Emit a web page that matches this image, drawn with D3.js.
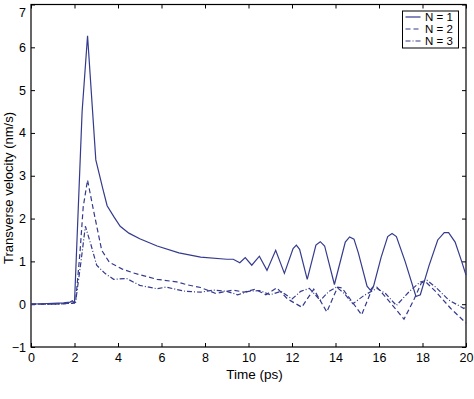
<!DOCTYPE html>
<html>
<head>
<meta charset="utf-8">
<script src="https://cdn.jsdelivr.net/npm/d3@7"></script>
<style>
  body { margin: 0; background: #fff; }
  svg { display: block; font-family: "Liberation Sans", Arial, sans-serif; }
</style>
</head>
<body>
<script>
// data
var xTicks = [0, 2, 4, 6, 8, 10, 12, 14, 16, 18, 20];
var yTicks = [-1, 0, 1, 2, 3, 4, 5, 6, 7];
var seriesNames = ["N = 1", "N = 2", "N = 3"];

var t1 = [0, 0.5, 1.0, 1.5, 1.8, 1.9, 2.0, 2.35, 2.6, 2.98, 3.3, 3.5, 3.8, 4.1, 4.5, 5.0, 5.8, 6.8, 7.8, 9.0, 9.3, 9.6, 9.85, 10.15, 10.5, 10.85, 11.25, 11.65, 12.05, 12.2, 12.35, 12.7, 13.1, 13.3, 13.5, 13.95, 14.45, 14.65, 14.85, 15.05, 15.45, 15.6, 15.75, 16.1, 16.4, 16.6, 16.8, 17.2, 17.7, 17.9, 18.3, 18.7, 19.0, 19.2, 19.5, 19.8, 20];
var v1 = [0, 0.01, 0.02, 0.03, 0.05, 0.08, 0.03, 4.5, 6.27, 3.37, 2.7, 2.3, 2.05, 1.82, 1.66, 1.53, 1.36, 1.2, 1.1, 1.05, 1.05, 0.97, 1.09, 0.91, 1.12, 0.79, 1.26, 0.72, 1.3, 1.38, 1.28, 0.58, 1.38, 1.46, 1.36, 0.46, 1.45, 1.57, 1.52, 1.2, 0.42, 0.33, 0.42, 1.1, 1.58, 1.65, 1.58, 1.0, 0.18, 0.22, 0.9, 1.5, 1.67, 1.67, 1.45, 1.0, 0.68];

var t2 = [0, 1.0, 1.9, 2.05, 2.25, 2.4, 2.6, 2.87, 3.25, 3.6, 4.2, 4.7, 5.8, 6.7, 7.2, 7.8, 8.5, 9.3, 9.8, 10.3, 10.8, 11.3, 11.8, 12.45, 13.0, 13.6, 14.1, 14.3, 15.2, 15.7, 15.9, 16.5, 17.15, 17.6, 17.95, 18.15, 18.6, 19.3, 20];
var v2 = [0, 0, 0.02, 0.05, 1.19, 2.27, 2.9, 2.2, 1.26, 0.98, 0.82, 0.73, 0.58, 0.52, 0.45, 0.39, 0.25, 0.33, 0.28, 0.35, 0.22, 0.38, 0.12, -0.07, 0.35, -0.18, 0.4, 0.38, -0.25, 0.38, 0.4, 0.05, -0.35, 0.1, 0.5, 0.52, 0.3, -0.1, -0.44];

var t3 = [0, 1.0, 1.9, 2.05, 2.3, 2.5, 2.75, 3.02, 3.4, 3.8, 4.4, 5.0, 5.8, 6.2, 7.1, 7.8, 8.4, 9.0, 9.5, 10.0, 10.5, 11.0, 11.5, 12.0, 12.4, 12.8, 13.3, 13.7, 14.05, 14.4, 14.8, 15.3, 15.9, 16.3, 16.8, 17.4, 17.9, 18.2, 18.6, 19.2, 19.9, 20];
var v3 = [0, 0, 0.02, 0.05, 1.0, 1.82, 1.4, 0.91, 0.72, 0.58, 0.6, 0.44, 0.36, 0.4, 0.3, 0.28, 0.33, 0.3, 0.22, 0.3, 0.32, 0.22, 0.3, 0.12, 0.3, 0.37, 0.09, 0.3, 0.4, 0.25, 0.01, 0.2, 0.37, 0.25, -0.03, 0.3, 0.52, 0.56, 0.4, 0.1, -0.1, -0.05];

var svgWidth = 474, svgHeight = 399;
var margin = { top: 4.5, right: 8, bottom: 52, left: 31 };
var width = svgWidth - margin.left - margin.right;
var height = svgHeight - margin.top - margin.bottom;
var lineColor = "#343a8c";

var svg = d3.select("body").append("svg")
  .attr("width", svgWidth)
  .attr("height", svgHeight);

var chartGroup = svg.append("g")
  .attr("transform", `translate(${margin.left}, ${margin.top})`);

var x = d3.scaleLinear().domain([0, 20]).range([0, width]);
var y = d3.scaleLinear().domain([-1, 7]).range([height, 0]);

// box + inward ticks, matlab style
function styleAxis(g) {
  g.select(".domain").remove();
  g.selectAll("line").attr("stroke", "#000").attr("stroke-width", 1);
  g.selectAll("text").attr("fill", "#000").style("font-size", "12.5px");
}

chartGroup.append("g")
  .attr("transform", `translate(0, ${height})`)
  .call(d3.axisBottom(x).tickValues(xTicks).tickSizeInner(-4).tickSizeOuter(0).tickPadding(6.5))
  .call(styleAxis);
chartGroup.append("g")
  .call(d3.axisTop(x).tickValues(xTicks).tickSizeInner(-4).tickSizeOuter(0).tickFormat(""))
  .call(styleAxis);
chartGroup.append("g")
  .call(d3.axisLeft(y).tickValues(yTicks).tickSizeInner(-4).tickSizeOuter(0).tickPadding(5)
    .tickFormat(d => d < 0 ? "\u2212" + Math.abs(d) : d))
  .call(styleAxis)
  .selectAll(".tick text")
  .filter(d => d === 7)
  .attr("dy", "0.95em"); // top label sits at the page edge
chartGroup.append("g")
  .attr("transform", `translate(${width}, 0)`)
  .call(d3.axisRight(y).tickValues(yTicks).tickSizeInner(-4).tickSizeOuter(0).tickFormat(""))
  .call(styleAxis);

chartGroup.append("rect")
  .attr("width", width).attr("height", height)
  .attr("fill", "none").attr("stroke", "#000").attr("stroke-width", 1.2);

var series = [
  { name: seriesNames[0], t: t1, v: v1, dash: null },
  { name: seriesNames[1], t: t2, v: v2, dash: "5,3" },
  { name: seriesNames[2], t: t3, v: v3, dash: "5,2,1,2" }
];

var line = d3.line()
  .x(d => x(d[0]))
  .y(d => y(d[1]));

series.forEach(function(s) {
  chartGroup.append("path")
    .datum(d3.zip(s.t, s.v))
    .attr("d", line)
    .attr("fill", "none")
    .attr("stroke", lineColor)
    .attr("stroke-width", 1.2)
    .attr("stroke-dasharray", s.dash);
});

// legend
var legend = chartGroup.append("g").attr("transform", `translate(${width - 63.5}, 6.5)`);
legend.append("rect")
  .attr("width", 56).attr("height", 37)
  .attr("fill", "#fff").attr("stroke", "#000").attr("stroke-width", 1);
series.forEach(function(s, i) {
  var ly = 6 + i * 12;
  legend.append("line")
    .attr("x1", 3).attr("x2", 18).attr("y1", ly).attr("y2", ly)
    .attr("stroke", lineColor).attr("stroke-width", 1.2)
    .attr("stroke-dasharray", s.dash);
  legend.append("text")
    .attr("x", 22.5).attr("y", ly + 4.2)
    .style("font-size", "11.5px")
    .text(s.name);
});

// axis titles
svg.append("text")
  .attr("x", 254.5).attr("y", 379)
  .attr("text-anchor", "middle")
  .style("font-size", "13.5px")
  .text("Time (ps)");

svg.append("text")
  .attr("transform", "translate(13, 188) rotate(-90)")
  .attr("text-anchor", "middle")
  .style("font-size", "13px")
  .text("Transverse velocity (nm/s)");
</script>
</body>
</html>
